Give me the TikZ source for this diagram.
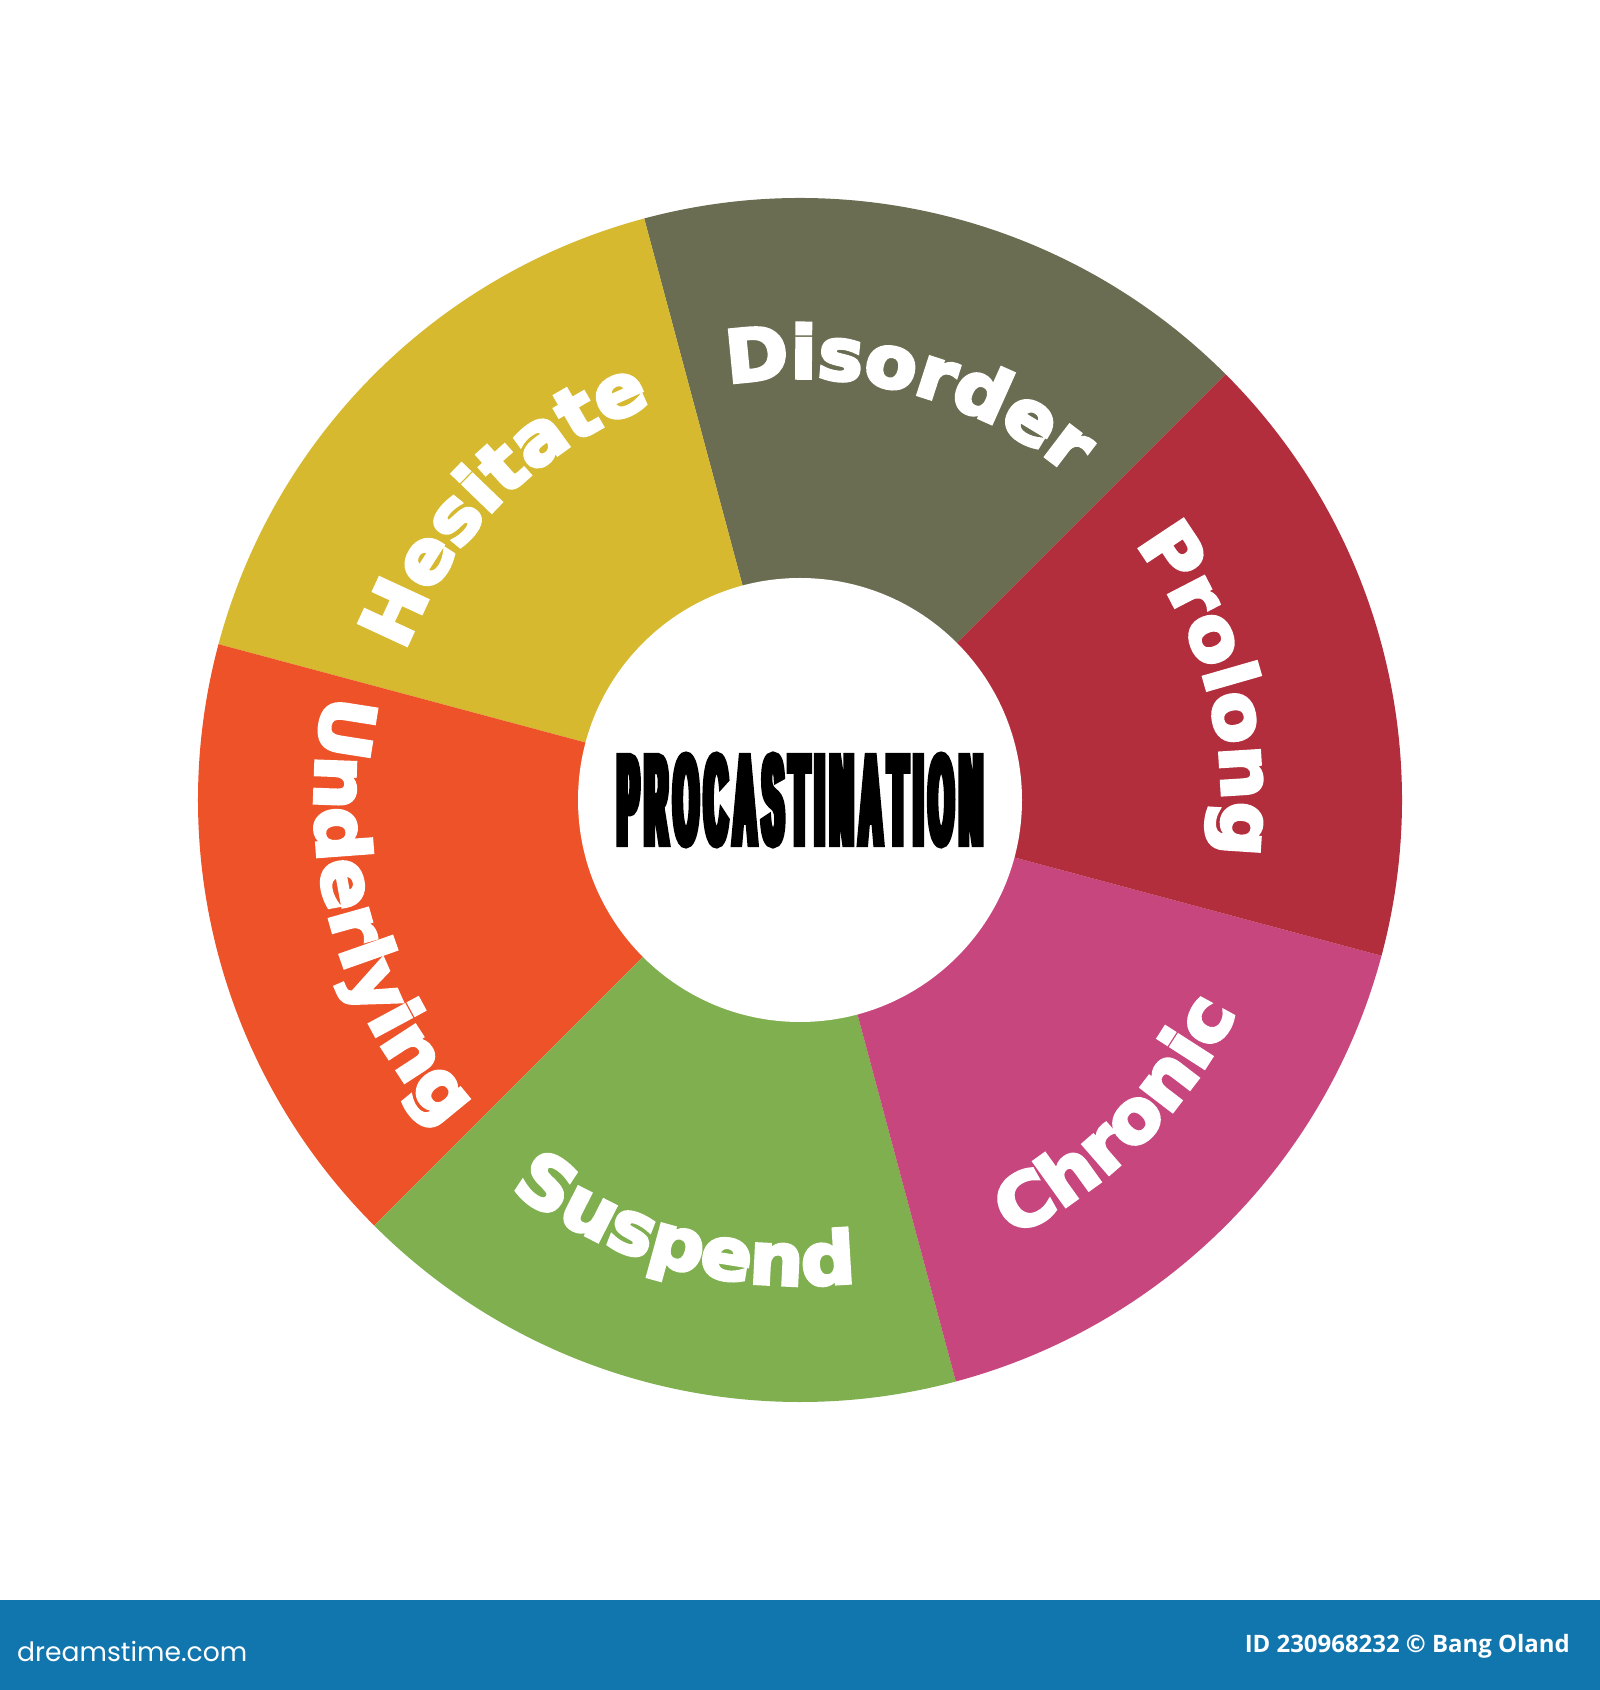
\documentclass[tikz,border=0pt]{standalone}
\usepackage{fontspec}
\usetikzlibrary{decorations.text}
\newfontfamily\arcfont{DejaVu Sans Bold}[FakeStretch=1.05, FakeBold=5]
\newfontfamily\centerfont{Liberation Sans Bold}[FakeStretch=0.245, FakeBold=5.5]
\newfontfamily\footfont{Open Sans}
\newfontfamily\logofont{Poppins}
\definecolor{cDis}{RGB}{107,109,82}
\definecolor{cPro}{RGB}{179,46,60}
\definecolor{cChr}{RGB}{200,70,126}
\definecolor{cSus}{RGB}{128,175,80}
\definecolor{cUnd}{RGB}{238,82,40}
\definecolor{cHes}{RGB}{214,185,46}
\definecolor{barblue}{RGB}{18,118,174}
\newcommand\arcstyle{\arcfont\fontsize{72}{72}\selectfont\color{white}}
\newcommand\titleword{P\kern6.5pt R\kern6.5pt O\kern6.5pt C\kern6.5pt A\kern6.5pt S\kern6.5pt T\kern6.5pt I\kern6.5pt N\kern6.5pt A\kern6.5pt T\kern6.5pt I\kern6.5pt O\kern6.5pt N}
\tikzset{
  arclabel/.style={decorate, decoration={text along path, text align=center, text={|\arcstyle|#1}}}
}
\begin{document}
\begin{tikzpicture}[x=1pt,y=1pt]
\useasboundingbox (0,0) rectangle (1600,1690);
\fill[white] (0,0) rectangle (1600,1690);
\coordinate (C) at (800,890);
% segments
\begin{scope}[shift={(800,890)}]
\fill[cDis] (0,0) -- (45:602pt) arc[start angle=45, end angle=105, radius=602pt] -- cycle;
\fill[cHes] (0,0) -- (105:602pt) arc[start angle=105, end angle=165, radius=602pt] -- cycle;
\fill[cUnd] (0,0) -- (165:602pt) arc[start angle=165, end angle=225, radius=602pt] -- cycle;
\fill[cSus] (0,0) -- (225:602pt) arc[start angle=225, end angle=285, radius=602pt] -- cycle;
\fill[cChr] (0,0) -- (285:602pt) arc[start angle=285, end angle=345, radius=602pt] -- cycle;
\fill[cPro] (0,0) -- (345:602pt) arc[start angle=345, end angle=405, radius=602pt] -- cycle;
% curved labels
\path[arclabel=Disorder] (105:422pt) arc[start angle=105, end angle=45, radius=422pt];
\path[arclabel=Prolong] (45:422pt) arc[start angle=45, end angle=-15, radius=422pt];
\path[arclabel=Hesitate] (165:422pt) arc[start angle=165, end angle=105, radius=422pt];
\path[arclabel=Chronic] (-75:485pt) arc[start angle=-75, end angle=-15, radius=485pt];
\path[arclabel=Suspend] (-135:485pt) arc[start angle=-135, end angle=-75, radius=485pt];
\path[arclabel=Underlying] (165:485pt) arc[start angle=165, end angle=225, radius=485pt];
\end{scope}
\node[circle, fill=white, minimum size=444pt, inner sep=0pt, text=black] (hub) at (C)
  {\centerfont\fontsize{127}{127}\selectfont\titleword};
% footer bar
\fill[barblue] (0,0) rectangle (1600,90);
\node[anchor=base west, inner sep=0pt, text=white] (logo) at (17,28)
  {\resizebox{230pt}{!}{\logofont dreamstime.com}};
\node[anchor=base east, inner sep=0pt, text=white] (credit) at (1570,37)
  {\resizebox{325pt}{!}{\footfont\bfseries ID 230968232 © Bang Oland}};
\end{tikzpicture}
\end{document}
